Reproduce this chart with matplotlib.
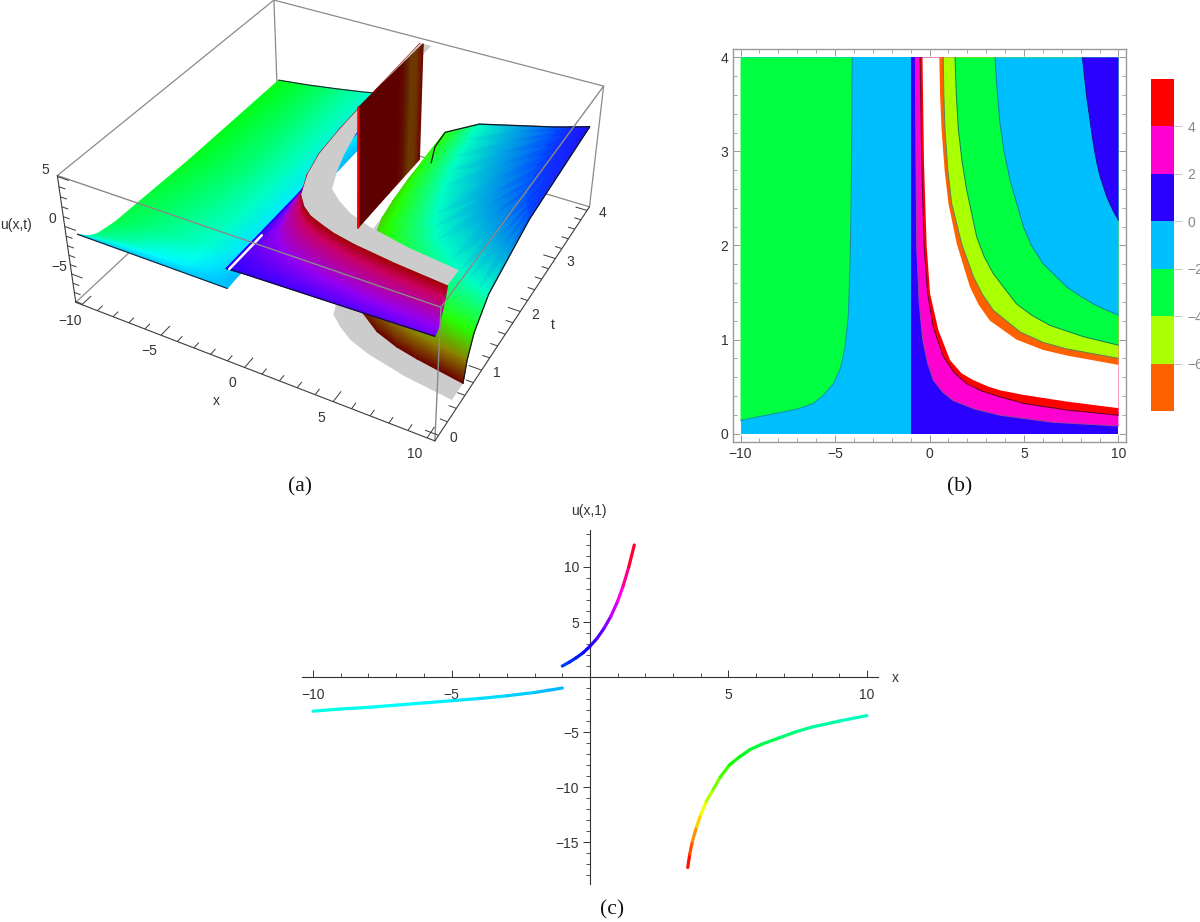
import numpy as np
import matplotlib
matplotlib.use('Agg')
import matplotlib.pyplot as plt
from matplotlib.colors import hsv_to_rgb, ListedColormap, BoundaryNorm
from matplotlib.collections import LineCollection
from matplotlib.ticker import MultipleLocator, FixedLocator

plt.rcParams['font.family'] = ['Liberation Sans', 'DejaVu Sans']
plt.rcParams['font.size'] = 10

# ---------- level curves of u(x,t) ----------
# right branch, beyond the pole
cm8_x = [.52,.56,.64,.8,1.0,1.44,2.14,2.6,3.2,4.6,6,7.26,10]
cm8_t = [4,3.6,3.23,2.8,2.45,2.02,1.56,1.37,1.2,1,.89,.83,.73]
cm6_x = [.73,.76,.82,.97,1.17,1.7,2.32,2.8,3.38,4.8,6,7.26,10]
cm6_t = [4,3.6,3.23,2.8,2.45,2.02,1.67,1.48,1.31,1.08,.97,.9,.8]
cm4_x = [1.35,1.42,1.53,1.72,1.97,2.5,2.9,3.38,4.6,5.4,6.38,8.15,10]
cm4_t = [4,3.6,3.23,2.9,2.59,2.09,1.88,1.7,1.38,1.26,1.15,1.03,.94]
cm2_x = [3.47,3.58,3.73,3.95,4.26,4.97,5.4,6,7.26,8,8.67,9.4,10]
cm2_t = [4,3.65,3.3,3,2.7,2.2,2.0,1.81,1.56,1.46,1.38,1.31,1.26]
c0_x = [8.09,8.15,8.2,8.32,8.45,8.6,8.76,8.9,9.05,9.38,9.6,9.8,10]
c0_t = [4,3.9,3.8,3.58,3.4,3.18,2.98,2.84,2.72,2.52,2.42,2.34,2.27]
# below the pole
c2_x = [-.75,-.72,-.68,-.55,-.36,-.1,.2,.7,1.26,2.4,3.73,6.5,10]
c2_t = [4,3,2,1.4,1,.75,.57,.44,.35,.26,.195,.12,.08]
c4_x = [-.5,-.41,-.29,-.1,.2,.73,1.3,1.97,2.8,3.73,5,7.26,10]
c4_t = [4,2.87,2,1.49,1.13,.82,.65,.53,.45,.39,.32,.25,.195]
c5_x = [-.44,-.35,-.22,-.04,.33,.9,1.5,2.14,2.95,3.73,5,7.26,10]
c5_t = [4,2.87,2,1.49,1.12,.8,.65,.55,.48,.42,.36,.29,.23]
c6_x = [-.37,-.29,-.15,.03,.47,1.09,1.7,2.3,3.1,3.73,5,7.26,10]
c6_t = [4,2.87,2,1.49,1.1,.78,.64,.57,.5,.46,.41,.34,.27]
pole_x = [.25,.3,.42,.6,.8,1.1,1.5,2,2.8,3.7,5,7.26,10]
pole_t = [4,3.2,2.6,2.2,1.9,1.6,1.3,1.02,.88,.76,.66,.55,.47]
base_x = [-1,-1,-1,-1,-1,-1,-1,0,1,2,4,7,10]
base_t = [4,3,2,1.4,1,.6,0,0,0,0,0,0,0]
base_u = [1.0,1.0,1.0,1.0,1.0,1.0,1.0,1.1,1.15,1.2,1.3,1.45,1.6]
# left branch
left_m2_x = [-4.09,-4.12,-4.2,-4.3,-4.47,-4.7,-5.09,-5.6,-6.15,-7,-7.74,-9,-10]
left_m2_t = [4,2.87,1.81,1.25,.92,.7,.53,.41,.32,.26,.23,.18,.14]

# sheet x < -1 of panel (a)
a_x = [-10,-8,-6,-4,-2,-1]
a_t = [0,.15,.3,.6,1,2,4]
a_u = [[-1,-1,-1,-1,-1,-1],
       [-2,-1.7,-1.5,-1.4,-1.1,-.9],
       [-2.6,-2.2,-1.8,-1.6,-1.2,-.9],
       [-3,-2.6,-2.25,-1.9,-1.3,-.9],
       [-3.1,-2.8,-2.4,-2,-1.3,-.9],
       [-3.4,-3,-2.6,-2.05,-1.35,-.9],
       [-3.5,-3.1,-2.6,-2.05,-1.35,-.9]]

# colour level along the two lowest rows of the right sheet
low8_hue = [-4.6,-4.6,-4.6,-4.6,-4.6,-4.6,-5.2,-6,-7.6,-8,-8,-8,-8]
low6_hue = [-4.3,-4.3,-4.3,-4.3,-4.3,-4.3,-4.5,-5,-5.6,-6,-6,-6,-6]
low8_val = [.62,.62,.62,.62,.62,.62,.6,.55,.45,.42,.42,.42,.42]
low6_val = [.85,.85,.85,.85,.85,.85,.8,.72,.62,.55,.55,.55,.55]

# the near-vertical wall
wall_t = [2.45,2.7,3.0,3.2,3.4,3.55,3.7,3.85,4]
wall_x = [-.34,-.33,-.32,-.31,-.3,-.29,-.28,-.27,-.26]
wall_low = [-8,-8,-8,-8,-8,-8,-8,-8,-8]
wall_top = [5,5,5,5,5,5,5,5,5]
wall_hue = [-8,-8,-8,-8,-8,-7.6,-6.8,-7,-7.9]
wall_val = [.36,.36,.36,.36,.38,.38,.42,.44,.42]

# panel (c)
cL_x = [-10,-9,-8,-7,-6,-5,-4,-3,-2,-1.5,-1]
cL_u = [-3.1,-2.9,-2.75,-2.55,-2.35,-2.15,-1.95,-1.7,-1.4,-1.2,-1]
cM_x = [-1,-.75,-.5,-.25,0,.25,.5,.75,1,1.2,1.4,1.6]
cM_u = [1,1.35,1.75,2.2,2.8,3.5,4.4,5.5,6.9,8.3,10,12]
cR_x = [3.53,3.6,3.7,3.85,4,4.2,4.45,4.7,5.03,5.4,5.77,6.2,6.8,7.4,8,9,10]
cR_u = [-17.3,-16.1,-14.9,-13.6,-12.5,-11.3,-10.2,-9.1,-8,-7.25,-6.6,-6.1,-5.55,-5,-4.55,-4,-3.5]

# colour bar of panel (b)
bar_levels = [-8,-6,-4,-2,0,2,4,6]
bar_colors = ['#FF6000','#AAFF00','#00FF40','#00BFFF','#2A00FF','#FF00D0','#FF0000']

fig = plt.figure(figsize=(12,9.22), dpi=100)
W, H = 1200, 922
canvas = fig.add_axes([0,0,1,1])
canvas.set_axis_off()

# ---------- perspective of the 3D box, fitted to its corners ----------
XL, XR, TF, TB, UB, UT = -10.4, 10.4, -.08, 4.08, -8.1, 5.1
corners = [(XL,TF,UT,57,176),(XR,TF,UT,442,307),(XR,TB,UT,603,86),(XL,TB,UT,274,0),
           (XL,TF,UB,76,302),(XR,TF,UB,434,441),(XR,TB,UB,590,207)]
A=[];b=[]
for x,t,u,px,py in corners:
    A.append([x,t,u,1,0,0,0,0,-px*x,-px*t,-px*u]); b.append(px)
    A.append([0,0,0,0,x,t,u,1,-py*x,-py*t,-py*u]); b.append(py)
p = np.linalg.lstsq(np.array(A,float),np.array(b,float),rcond=None)[0]
P = np.append(p,1).reshape(3,4)
def proj(x,t,u):
    x,t,u = np.broadcast_arrays(np.asarray(x,float),np.asarray(t,float),np.asarray(u,float))
    h = np.stack([x,t,u,np.ones_like(x)],-1) @ P.T
    return h[...,0]/h[...,2], h[...,1]/h[...,2]

def line3(x,t,u,**kw):
    px,py = proj(x,t,u)
    canvas.plot(px,py,solid_capstyle='round',**kw)

def sheet(X,T,U,HUE,VAL,z):
    px,py = proj(X,T,U)
    hue = np.clip((np.asarray(HUE,float)+8)/13,0,1)%1
    hsv = np.stack([hue,np.ones_like(hue),np.ones_like(hue)],-1)
    rgb = hsv_to_rgb(hsv)*np.asarray(VAL,float)[...,None]
    canvas.pcolormesh(px,py,rgb,shading='gouraud',zorder=z,rasterized=False)

BOX='#8a8a8a'
# back box lines
for a,b_ in [((XL,TF,UT),(XL,TB,UT)),((XL,TB,UT),(XR,TB,UT)),((XR,TB,UT),(XR,TB,UB)),
             ((XL,TB,UT),(XL,TB,UB)),((XL,TB,UB),(XR,TB,UB)),((XL,TF,UB),(XL,TB,UB))]:
    line3([a[0],b_[0]],[a[1],b_[1]],[a[2],b_[2]],color=BOX,lw=.9,zorder=1)

# sheet A
AX,AT = np.meshgrid(a_x,a_t)
AU = np.array(a_u,float)
sheet(AX,AT,AU,AU,np.ones_like(AU),2)
line3(AX[0],AT[0],AU[0],color='#202030',lw=.8,zorder=2.1)
line3(AX[-1],AT[-1],AU[-1],color='#202030',lw=.8,zorder=2.1)

# bottom clip ribbon
bx = np.r_[pole_x,cm8_x[::-1]]; bt = np.r_[pole_t,cm8_t[::-1]]
px,py = proj(bx,bt,-8*np.ones_like(bx))
canvas.fill(px,py,color='#CCCCCC',lw=0,zorder=3)

# right sheet
n = len(cm8_x)
CX = np.array([cm8_x,cm6_x,cm4_x,cm2_x,c0_x,[10]*n],float)
CT = np.array([cm8_t,cm6_t,cm4_t,cm2_t,c0_t,[4]*n],float)
CU = np.array([[-8]*n,[-6]*n,[-4]*n,[-2]*n,[0]*n,[1]*n],float)
CH = CU.copy(); CH[0]=low8_hue; CH[1]=low6_hue
CV = np.ones_like(CU); CV[0]=low8_val; CV[1]=low6_val
sheet(CX,CT,CU,CH,CV,4)
line3(CX[:,0],CT[:,0],CU[:,0],color='#15151f',lw=.9,zorder=4.1)
line3(CX[:,-1],CT[:,-1],CU[:,-1],color='#15151f',lw=.9,zorder=4.1)

# middle sheet
BX = np.array([base_x,c2_x,c4_x,c5_x],float)
BT = np.array([base_t,c2_t,c4_t,c5_t],float)
BU = np.array([base_u,[2]*n,[4]*n,[5]*n],float)
BV = np.array([[1]*n,[.95]*n,[.8]*n,[.62]*n],float)
sheet(BX,BT,BU,BU,BV,5)
line3(BX[0,6:],BT[0,6:],BU[0,6:],color='#101030',lw=.9,zorder=5.1)
line3(BX[0,:7],BT[0,:7],BU[0,:7],color='#2a00ff',lw=.8,zorder=5.1)
# slit in the middle sheet
line3([-.82,-.82],[0,.6],[1.05,1.05],color='white',lw=1.8,zorder=5.2)

# top clip ribbon
bx = np.r_[c5_x,pole_x[::-1]]; bt = np.r_[c5_t,pole_t[::-1]]
px,py = proj(bx,bt,5*np.ones_like(bx))
canvas.fill(px,py,color='#CCCCCC',lw=0,zorder=6)

# wall
WX = np.array([wall_x,wall_x],float); WT=np.array([wall_t,wall_t],float)
WU = np.array([wall_low,wall_top],float)
WH = np.array([wall_hue,wall_hue],float); WV=np.array([wall_val,wall_val],float)
sheet(WX,WT,WU,WH,WV,7)
line3(WX[:,0],WT[:,0],WU[:,0],color='#FF0000',lw=1.6,zorder=7.1)

# front box lines
for a,b_ in [((XL,TF,UT),(XR,TF,UT)),((XR,TF,UT),(XR,TB,UT)),((XR,TF,UT),(XR,TF,UB))]:
    line3([a[0],b_[0]],[a[1],b_[1]],[a[2],b_[2]],color=BOX,lw=1.0,zorder=8)
DK='#3a3a3a'
for a,b_ in [((XL,TF,UB),(XR,TF,UB)),((XR,TF,UB),(XR,TB,UB)),((XL,TF,UT),(XL,TF,UB))]:
    line3([a[0],b_[0]],[a[1],b_[1]],[a[2],b_[2]],color=DK,lw=.8,zorder=8)

# ticks of the box
segs=[]
for v in range(-10,11):
    L = .16 if v%5==0 else .09
    segs.append(np.c_[proj([v,v],[TF,TF+L],[UB,UB])])
for v in np.arange(0,4.01,.2):
    L = .7 if abs(v-round(v))<1e-6 else .4
    segs.append(np.c_[proj([XR,XR-L],[v,v],[UB,UB])])
for v in range(-8,6):
    L = .7 if v%5==0 else .4
    segs.append(np.c_[proj([XL,XL+L],[TF,TF],[v,v])])
canvas.add_collection(LineCollection(segs,colors=DK,linewidths=.7,zorder=8))
TXT='#333333'
for v in [-10,-5,0,5,10]:
    px,py=proj(v,TF,UB)
    canvas.text(px-12,py+16,str(v).replace('-','\u2212'),ha='center',va='center',color=TXT)
for v in range(0,5):
    px,py=proj(XR,v,UB)
    canvas.text(px+15,py+3,str(v),ha='center',va='center',color=TXT)
for v in [-5,0,5]:
    px,py=proj(XL,TF,v)
    canvas.text(px-12,py-7,str(v).replace('-','\u2212'),ha='center',va='center',color=TXT)
canvas.text(16,225,'u(x,t)',ha='center',va='center',color=TXT)
canvas.text(216,401,'x',ha='center',va='center',color=TXT)
canvas.text(553,325,'t',ha='center',va='center',color=TXT)

for s,x,y in [('(a)',300,487),('(b)',960,487),('(c)',612,910)]:
    canvas.text(x,y,s,ha='center',va='center',fontsize=15.5,family='Liberation Serif',color='#111111')
canvas.set_xlim(0,W); canvas.set_ylim(H,0)

# ---------- panel (b) ----------
def axpos(l,t,r,bm):
    return [l/W,1-bm/H,(r-l)/W,(bm-t)/H]
axb = fig.add_axes(axpos(733,49,1126,442))
axb.set_xlim(-10.4,10.4); axb.set_ylim(-.09,4.09)
def beyond(cx,ct,color,z):
    axb.fill(np.r_[cx,[10,10]],np.r_[ct,[0,4]] if False else np.r_[ct,[ct[-1],4]],color=color,lw=0,zorder=z)
axb.fill([-10,-1,-1,-10],[0,0,4,4],color=bar_colors[3],lw=0,zorder=1)
axb.fill(np.r_[left_m2_x,[-10]],np.r_[left_m2_t,[4]],color=bar_colors[2],lw=0,zorder=1.1)
axb.fill([-1,10,10,-1],[0,0,4,4],color=bar_colors[4],lw=0,zorder=1)
beyond(c2_x,c2_t,bar_colors[5],2)
beyond(c4_x,c4_t,bar_colors[6],3)
beyond(c6_x,c6_t,'white',4)
beyond(cm8_x,cm8_t,bar_colors[0],5)
beyond(cm6_x,cm6_t,bar_colors[1],6)
beyond(cm4_x,cm4_t,bar_colors[2],7)
beyond(cm2_x,cm2_t,bar_colors[3],8)
beyond(c0_x,c0_t,bar_colors[4],9)
for cx,ct,col in [(c2_x,c2_t,'#a040a0'),(c4_x,c4_t,'#600020'),(cm6_x,cm6_t,'#608050'),
                  (cm4_x,cm4_t,'#108050'),(cm2_x,cm2_t,'#1080a0'),(c0_x,c0_t,'#201090'),
                  (left_m2_x,left_m2_t,'#1090a0')]:
    axb.plot(cx,ct,color=col,lw=.7,zorder=10)
axb.xaxis.set_major_locator(MultipleLocator(5)); axb.xaxis.set_minor_locator(MultipleLocator(1))
axb.yaxis.set_major_locator(MultipleLocator(1)); axb.yaxis.set_minor_locator(MultipleLocator(.2))
axb.tick_params(which='both',direction='in',top=True,right=True,color='#999999',labelcolor=TXT)
axb.tick_params(which='major',length=5,width=.7); axb.tick_params(which='minor',length=3,width=.6)
axb.set_xticks([-10,-5,0,5,10]); axb.set_xticklabels(['\u221210','\u22125','0','5','10'])
axb.set_yticks([0,1,2,3,4])
for s in axb.spines.values():
    s.set_color('#999999'); s.set_linewidth(1)

axc_bar = fig.add_axes(axpos(1151,79,1173.5,411))
cmap = ListedColormap(bar_colors); norm = BoundaryNorm(bar_levels,7)
axc_bar.pcolormesh([0,1],bar_levels,np.arange(7).reshape(-1,1)+.5,cmap=cmap,norm=BoundaryNorm(np.arange(8),7))
axc_bar.set_xticks([]); axc_bar.yaxis.tick_right()
axc_bar.set_yticks([-6,-4,-2,0,2,4]); axc_bar.set_yticklabels(['\u22126','\u22124','\u22122','0','2','4'])
axc_bar.tick_params(axis='y',length=6,width=.6,color='#bbbbbb',labelcolor='#888888',pad=4)
for s in axc_bar.spines.values(): s.set_visible(False)

# ---------- panel (c) ----------
axc = fig.add_axes(axpos(302,530,878,884))
axc.patch.set_alpha(0)
axc.set_xlim(-10.4,10.4); axc.set_ylim(-18.8,13.36)
for xs,us in [(cL_x,cL_u),(cM_x,cM_u),(cR_x,cR_u)]:
    pts = np.c_[xs,us]
    segs = np.stack([pts[:-1],pts[1:]],1)
    mid = (pts[:-1,1]+pts[1:,1])/2
    hue = np.clip((mid+17)/29,0,1)%1
    cols = hsv_to_rgb(np.c_[hue,np.ones_like(hue),np.ones_like(hue)])
    axc.add_collection(LineCollection(segs,colors=cols,linewidths=2.3,capstyle='round',zorder=5))
axc.spines['left'].set_position(('data',0)); axc.spines['bottom'].set_position(('data',0))
axc.spines['top'].set_visible(False); axc.spines['right'].set_visible(False)
for k in ['left','bottom']:
    axc.spines[k].set_color('#333333'); axc.spines[k].set_linewidth(.8)
axc.set_xticks([-10,-5,5,10]); axc.set_xticklabels(['\u221210','\u22125','5','10'])
axc.set_yticks([-15,-10,-5,5,10]); axc.set_yticklabels(['\u221215','\u221210','\u22125','5','10'])
axc.xaxis.set_minor_locator(MultipleLocator(1)); axc.yaxis.set_minor_locator(MultipleLocator(1))
axc.tick_params(axis='x',which='both',direction='in',color='#333333',labelcolor=TXT,pad=8)
axc.tick_params(axis='y',which='both',direction='out',color='#333333',labelcolor=TXT,pad=3)
axc.tick_params(which='major',length=5,width=.7); axc.tick_params(which='minor',length=3,width=.6)
axc.patch.set_visible(False)
canvas.text(589,511,'u(x,1)',ha='center',va='center',color=TXT)
canvas.text(895,678,'x',ha='center',va='center',color=TXT)

fig.savefig('out.png',dpi=100)
